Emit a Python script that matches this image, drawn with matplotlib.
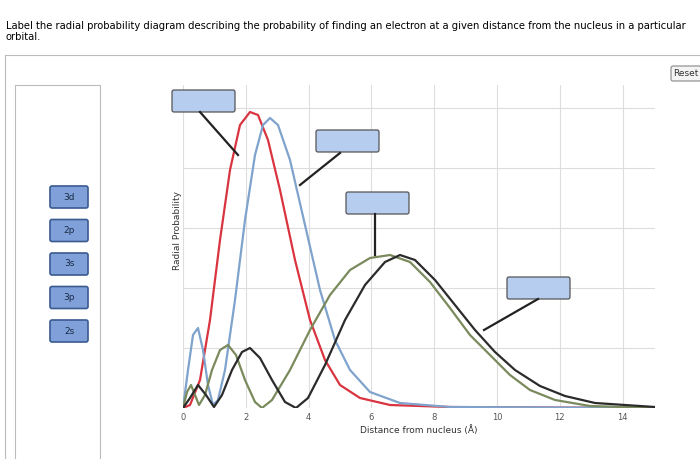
import numpy as np
import matplotlib.pyplot as plt
from matplotlib.patches import FancyBboxPatch, Rectangle

# curve samples (x in Angstrom, y relative probability)
PX_PER_A = 31.4
X0_PX, BASE_PX, SCALE_PX = 183, 408, 300.0

red_px = [(183, 408), (190, 405), (200, 380), (210, 320), (220, 240), (230, 170), (240, 125), (250, 112),
          (258, 115), (268, 140), (280, 190), (295, 260), (310, 320), (325, 360), (340, 385), (360, 398),
          (390, 405), (450, 407), (655, 408)]
blue_px = [(183, 408), (188, 370), (193, 335), (198, 328), (203, 350), (208, 385), (213, 405), (218, 400),
           (225, 370), (235, 300), (245, 220), (255, 155), (263, 125), (270, 118), (278, 125), (290, 160),
           (305, 225), (320, 290), (335, 340), (350, 370), (370, 392), (400, 403), (450, 407), (655, 408)]
green_px = [(183, 408), (187, 392), (191, 385), (195, 395), (199, 405), (205, 395), (212, 370), (220, 350),
            (228, 345), (236, 355), (245, 380), (255, 402), (262, 408), (272, 400), (290, 370), (310, 330),
            (330, 295), (350, 270), (370, 258), (390, 255), (410, 262), (430, 282), (450, 308), (470, 335),
            (490, 355), (510, 375), (530, 390), (555, 400), (590, 406), (655, 408)]
black_px = [(183, 408), (190, 398), (198, 385), (206, 395), (214, 407), (222, 395), (232, 370), (242, 352),
            (250, 348), (260, 358), (272, 380), (285, 402), (296, 408), (308, 398), (325, 365), (345, 320),
            (365, 285), (385, 262), (400, 255), (415, 260), (435, 280), (455, 305), (475, 330), (495, 352),
            (515, 370), (540, 386), (565, 396), (595, 403), (655, 407)]

def to_data(pts):
    a = np.array(pts, dtype=float)
    return (a[:, 0] - X0_PX) / PX_PER_A, (BASE_PX - a[:, 1]) / SCALE_PX

choices = ["3d", "2p", "3s", "3p", "2s"]
xticks = [0, 2, 4, 6, 8, 10, 12, 14]

fig = plt.figure(figsize=(7, 4.59), dpi=100)
W, H = 700, 459

ax = fig.add_axes([183 / W, (H - 408) / H, 472 / W, 323 / H])
ax.set_xlim(0, 472 / PX_PER_A)
ax.set_ylim(0, 323 / SCALE_PX)
for xs, ys, c in [to_data(red_px) + ("#d9343f",), to_data(blue_px) + ("#7fa3cc",),
                  to_data(green_px) + ("#7a8a5c",), to_data(black_px) + ("#2b2b2b",)]:
    ax.plot(xs, ys, color=c, lw=1.6, solid_joinstyle="round")
ax.set_xticks(xticks)
ax.set_xticklabels([str(t) for t in xticks], fontsize=6, color="#555555")
ax.set_yticks(np.arange(0.2, 1.1, 0.2))
ax.set_yticklabels([])
ax.tick_params(length=0)
ax.grid(True, color="#dddddd", lw=0.8)
for s in ax.spines.values():
    s.set_visible(False)
ax.set_xlabel("Distance from nucleus (Å)", fontsize=6.5, color="#333333", labelpad=2)
ax.text(-0.012, 0.55, "Radial Probability", transform=ax.transAxes, rotation=90,
        fontsize=6.5, color="#333333", ha="center", va="center")

# overlay in pixel coordinates
ov = fig.add_axes([0, 0, 1, 1], facecolor="none")
ov.set_xlim(0, W)
ov.set_ylim(H, 0)
ov.axis("off")
ov.text(6, 26, "Label the radial probability diagram describing the probability of finding an electron at a given distance from the nucleus in a particular",
        fontsize=7.2, va="center")
ov.text(6, 37, "orbital.", fontsize=7.2, va="center")
ov.add_patch(Rectangle((5, 55), 700, 410, fill=False, ec="#bbbbbb", lw=0.8))
ov.add_patch(Rectangle((15, 85), 85, 380, fill=False, ec="#bbbbbb", lw=0.8))
ov.add_patch(FancyBboxPatch((671, 66), 30, 15, boxstyle="round,pad=0,rounding_size=2",
                            fc="#f4f4f4", ec="#888888", lw=0.8))
ov.text(686, 73.5, "Reset", fontsize=6.5, ha="center", va="center", color="#333333")

for i, lab in enumerate(choices):
    y = 197 + i * 33.5
    ov.add_patch(FancyBboxPatch((50, y - 11), 38, 22, boxstyle="round,pad=0,rounding_size=2",
                                fc="#7fa0d8", ec="#3a5a90", lw=1.2))
    ov.text(69, y, lab, fontsize=6.5, ha="center", va="center", color="#1a2a45")

boxes = [((172, 90), (200, 112), (238, 155)),
         ((316, 130), (340, 153), (300, 185)),
         ((346, 192), (375, 214), (375, 255)),
         ((507, 277), (538, 299), (484, 330))]
for (bx, by), p1, p2 in boxes:
    ov.plot([p1[0], p2[0]], [p1[1], p2[1]], color="#222222", lw=1.6)
    ov.add_patch(FancyBboxPatch((bx, by), 63, 22, boxstyle="round,pad=0,rounding_size=2",
                                fc="#b7cdf0", ec="#555555", lw=0.9))

fig.savefig("out.png", dpi=100)
